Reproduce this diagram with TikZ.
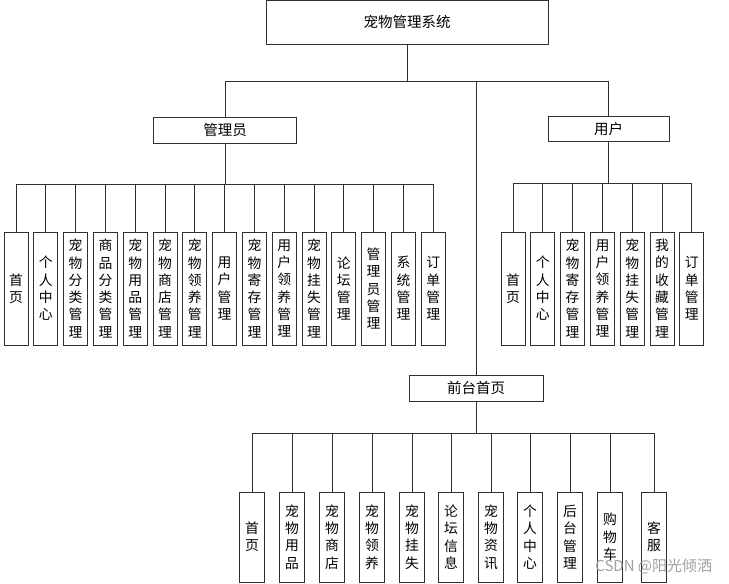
\documentclass[tikz,border=0pt]{standalone}
\usepackage{fontspec}
\setmainfont{Noto Sans CJK SC}
\usetikzlibrary{positioning}
\definecolor{lcline}{HTML}{303030}
\definecolor{lcmark}{HTML}{A0A0A0}

\begin{document}
\begin{tikzpicture}[x=1pt, y=-1pt, line width=1pt, draw=lcline,
    every node/.style={font=\fontsize{13.8}{17.3}\selectfont},
    box/.style={draw=lcline, line width=1pt, rectangle, inner sep=0pt, align=center},
    leaf/.style={box, minimum width=24pt, minimum height=113pt},
    fleaf/.style={box, minimum width=25pt, minimum height=90pt}]
  \useasboundingbox (0,0) rectangle (729,584);

  % Root
  \node[box, minimum width=282pt, minimum height=44pt, font=\fontsize{14.5}{17}\selectfont] (root) at (407,22) {宠物管理系统};

  % Second level
  \node[box, minimum width=143pt, minimum height=26pt, font=\fontsize{14.5}{17}\selectfont] (admin) at (225,130) {管理员};
  \node[box, minimum width=121pt, minimum height=25pt, font=\fontsize{14.5}{17}\selectfont] (user) at (608.5,128.5) {用户};
  \node[box, minimum width=134pt, minimum height=26pt, font=\fontsize{14.5}{17}\selectfont] (front) at (476,388) {前台首页};

  % Admin modules
  \node[leaf] (adm1) at (16,288.5) {首\\页};
  \node[leaf] (adm2) at (45.8,288.5) {个\\人\\中\\心};
  \node[leaf] (adm3) at (75.6,288.5) {宠\\物\\分\\类\\管\\理};
  \node[leaf] (adm4) at (105.4,288.5) {商\\品\\分\\类\\管\\理};
  \node[leaf] (adm5) at (135.2,288.5) {宠\\物\\用\\品\\管\\理};
  \node[leaf] (adm6) at (165,288.5) {宠\\物\\商\\店\\管\\理};
  \node[leaf] (adm7) at (194.8,288.5) {宠\\物\\领\\养\\管\\理};
  \node[leaf] (adm8) at (224.6,288.5) {用\\户\\管\\理};
  \node[leaf] (adm9) at (254.4,288.5) {宠\\物\\寄\\存\\管\\理};
  \node[leaf] (adm10) at (284.2,288.5) {用\\户\\领\\养\\管\\理};
  \node[leaf] (adm11) at (314,288.5) {宠\\物\\挂\\失\\管\\理};
  \node[leaf] (adm12) at (343.8,288.5) {论\\坛\\管\\理};
  \node[leaf] (adm13) at (373.6,288.5) {管\\理\\员\\管\\理};
  \node[leaf] (adm14) at (403.4,288.5) {系\\统\\管\\理};
  \node[leaf] (adm15) at (433.2,288.5) {订\\单\\管\\理};

  % User modules
  \node[leaf] (usr1) at (513,288.5) {首\\页};
  \node[leaf] (usr2) at (542.8,288.5) {个\\人\\中\\心};
  \node[leaf] (usr3) at (572.6,288.5) {宠\\物\\寄\\存\\管\\理};
  \node[leaf] (usr4) at (602.4,288.5) {用\\户\\领\\养\\管\\理};
  \node[leaf] (usr5) at (632.2,288.5) {宠\\物\\挂\\失\\管\\理};
  \node[leaf] (usr6) at (662,288.5) {我\\的\\收\\藏\\管\\理};
  \node[leaf] (usr7) at (691.8,288.5) {订\\单\\管\\理};

  % Front page modules
  \node[fleaf] (frt1) at (252,537) {首\\页};
  \node[fleaf] (frt2) at (292,537) {宠\\物\\用\\品};
  \node[fleaf] (frt3) at (332,537) {宠\\物\\商\\店};
  \node[fleaf] (frt4) at (372,537) {宠\\物\\领\\养};
  \node[fleaf] (frt5) at (412,537) {宠\\物\\挂\\失};
  \node[fleaf] (frt6) at (451,537) {论\\坛\\信\\息};
  \node[fleaf] (frt7) at (491,537) {宠\\物\\资\\讯};
  \node[fleaf] (frt8) at (530,537) {个\\人\\中\\心};
  \node[fleaf] (frt9) at (570,537) {后\\台\\管\\理};
  \node[fleaf] (frt10) at (610,537) {购\\物\\车};
  \node[fleaf] (frt11) at (654,537) {客\\服};

  % Watermark
  \node[text=lcmark, font=\fontsize{15}{17}\selectfont, anchor=east] (mark) at (716,566) {CSDN @阳光倾洒};

  % Lines
  \coordinate (mainbus) at (407,81);
  \draw (root.south) -- (mainbus);
  \draw (mainbus) -| (admin.north);
  \draw (mainbus) -| (user.north);
  \draw (mainbus) -| (front.north);

  \foreach \i in {1,...,15}
    \draw (admin.south) -- ++(0,41) -| (adm\i.north);
  \foreach \i in {1,...,7}
    \draw (user.south) -- ++(0,42) -| (usr\i.north);
  \foreach \i in {1,...,11}
    \draw (front.south) -- ++(0,32) -| (frt\i.north);
\end{tikzpicture}
\end{document}
